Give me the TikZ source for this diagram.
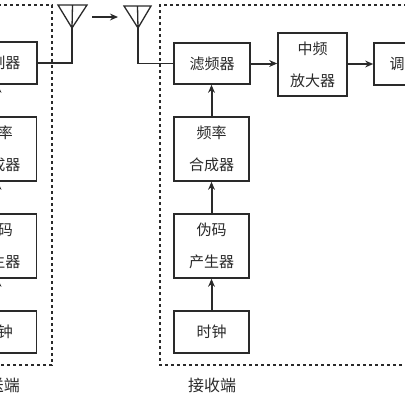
\documentclass[tikz,border=0pt]{standalone}
\usepackage{fontspec}
\usepackage{xcolor}
\usetikzlibrary{positioning,arrows.meta,calc}
\setmainfont{Noto Sans CJK SC}
\definecolor{inkdark}{HTML}{2A2A2A}
\tikzset{
  block/.style  = {rectangle, draw=inkdark, fill=white, line width=1.6pt, inner sep=0pt,
                   align=center, text=inkdark, font=\fontsize{15pt}{32pt}\selectfont},
  flow/.style   = {-{Stealth[length=2.8mm,width=2.4mm]}, line width=2pt, draw=inkdark},
  feed/.style   = {line width=1.6pt, draw=inkdark},
  frame/.style  = {line width=1.7pt, draw=inkdark, dash pattern=on 3.2pt off 2.8pt},
  aerial/.style = {line width=1.3pt, draw=inkdark},
  side/.style   = {text=inkdark, font=\fontsize{16pt}{18pt}\selectfont},
}
\begin{document}
\begin{tikzpicture}[x=1pt, y=-1pt]
  \useasboundingbox (0,0) rectangle (405,405);
  \clip (0,0) rectangle (405,405);

  % blocks
  \foreach \n/\x/\y/\w/\h/\t in {%
    txmod/-2/63/78/42/{调制器},
    txsyn/-2/149/77/64/{频率\\合成器},
    txpn/-2/246/77/64/{伪码\\产生器},
    txclk/-2/332/77/42/{时钟},
    rxfilt/212/63.5/76/41/{滤频器},
    rxsyn/211.5/149/75/64/{频率\\合成器},
    rxpn/211.5/246/75/64/{伪码\\产生器},
    rxclk/211.5/332/75/42/{时钟},
    rxif/312.5/64.5/69/63/{中频\\放大器},
    rxdem/412/64/76/42/{调制器}%
  } {
    \node[block, minimum width=\w pt, minimum height=\h pt] (\n) at (\x,\y) {\t};
  }

  % side frames
  \draw[frame] (-2,5) -- (52,5) -- (52,365) -- (-2,365);
  \draw[frame] (407,5) -- (160,5) -- (160,365) -- (407,365);
  \node[side] (txlabel) at (-4,385) {发送端};
  \node[side] (rxlabel) at (212,385) {接收端};

  % aerials
  \coordinate (txtip) at (72,28);
  \coordinate (rxtip) at (138,28);
  \draw[aerial] (58,5) -- (87,5) -- (txtip) -- cycle (72.5,5) -- (txtip);
  \draw[aerial] (124,6) -- (151,6) -- (rxtip) -- cycle (137.5,6) -- (rxtip);
  \draw[feed] (txmod.east) -| (txtip);
  \draw[feed] (rxtip) |- (rxfilt.west);
  \coordinate (linkfrom) at (92,17);
  \coordinate (linkto) at (118,17);
  \draw[flow] (linkfrom) -- (linkto);

  % signal path
  \draw[flow] (txsyn) -- (txmod);
  \draw[flow] (txpn) -- (txsyn);
  \draw[flow] (txclk) -- (txpn);
  \draw[flow] (rxclk) -- (rxpn);
  \draw[flow] (rxpn) -- (rxsyn);
  \draw[flow] (rxsyn.north) -- (rxfilt.south -| rxsyn.north);
  \draw[flow] (rxfilt.east) -- (rxif.west |- rxfilt.east);
  \draw[flow] (rxif.east |- rxdem.west) -- (rxdem.west);
\end{tikzpicture}
\end{document}
